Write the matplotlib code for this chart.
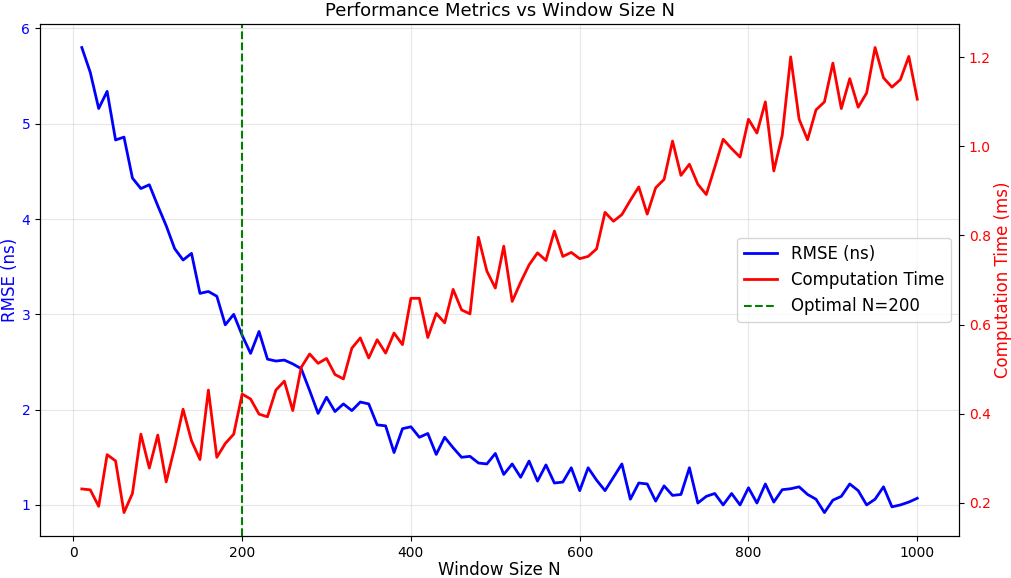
import numpy as np
import matplotlib
matplotlib.use("Agg")
import matplotlib.pyplot as plt

# Window sizes N = 10, 20, ..., 1000
window_sizes = np.arange(10, 1001, 10)

# RMSE (ns)
rmse_ns = [
    5.80, 5.54, 5.16, 5.34, 4.83, 4.86, 4.43, 4.32, 4.36, 4.14,
    3.93, 3.69, 3.57, 3.64, 3.22, 3.24, 3.19, 2.89, 3.00, 2.78,
    2.59, 2.82, 2.53, 2.51, 2.52, 2.48, 2.43, 2.20, 1.96, 2.13,
    1.98, 2.06, 1.99, 2.08, 2.06, 1.84, 1.83, 1.55, 1.80, 1.82,
    1.71, 1.75, 1.53, 1.71, 1.60, 1.50, 1.51, 1.44, 1.43, 1.54,
    1.32, 1.43, 1.29, 1.46, 1.25, 1.42, 1.23, 1.24, 1.39, 1.15,
    1.39, 1.26, 1.15, 1.29, 1.43, 1.06, 1.23, 1.22, 1.04, 1.20,
    1.10, 1.11, 1.39, 1.02, 1.09, 1.12, 1.00, 1.12, 1.00, 1.18,
    1.02, 1.22, 1.03, 1.16, 1.17, 1.19, 1.11, 1.06, 0.92, 1.05,
    1.09, 1.22, 1.15, 1.00, 1.06, 1.19, 0.98, 1.00, 1.03, 1.07,
]

# Computation time (ms)
comp_time_ms = [
    0.231, 0.229, 0.192, 0.308, 0.294, 0.178, 0.221, 0.354, 0.278, 0.352,
    0.247, 0.324, 0.410, 0.339, 0.297, 0.453, 0.302, 0.333, 0.354, 0.444,
    0.433, 0.399, 0.393, 0.453, 0.473, 0.407, 0.504, 0.534, 0.513, 0.524,
    0.488, 0.478, 0.547, 0.570, 0.525, 0.566, 0.536, 0.581, 0.555, 0.659,
    0.659, 0.571, 0.625, 0.604, 0.679, 0.633, 0.624, 0.796, 0.720, 0.682,
    0.776, 0.652, 0.695, 0.734, 0.761, 0.744, 0.810, 0.753, 0.762, 0.748,
    0.753, 0.770, 0.852, 0.832, 0.847, 0.879, 0.909, 0.848, 0.907, 0.926,
    1.012, 0.935, 0.960, 0.915, 0.892, 0.953, 1.016, 0.995, 0.976, 1.061,
    1.030, 1.100, 0.945, 1.025, 1.201, 1.061, 1.015, 1.082, 1.100, 1.187,
    1.085, 1.152, 1.088, 1.120, 1.222, 1.154, 1.133, 1.150, 1.202, 1.106,
]

optimal_n = 200

fig = plt.figure(figsize=(10.11, 5.78), dpi=100)
ax1 = fig.add_axes([0.0396, 0.073, 0.909, 0.885])

l1, = ax1.plot(window_sizes, rmse_ns, color="blue", linewidth=2, label="RMSE (ns)")
ax1.set_xlabel("Window Size N", fontsize=12, labelpad=1)
ax1.set_ylabel("RMSE (ns)", color="blue", fontsize=12, labelpad=2)
ax1.tick_params(axis="y", labelcolor="blue", labelsize=10)
ax1.tick_params(axis="x", labelsize=10)
ax1.grid(True, alpha=0.3)

ax2 = ax1.twinx()
l2, = ax2.plot(window_sizes, comp_time_ms, color="red", linewidth=2, label="Computation Time")
ax2.set_ylabel("Computation Time (ms)", color="red", fontsize=12, labelpad=2)
ax2.tick_params(axis="y", labelcolor="red", labelsize=10)

l3 = ax1.axvline(optimal_n, color="green", linestyle="--", linewidth=1.5,
                 label=f"Optimal N={optimal_n}")

ax1.set_title("Performance Metrics vs Window Size N", fontsize=13)
ax1.legend(handles=[l1, l2, l3], loc="center right", fontsize=12)

fig.savefig("out.png", dpi=100)
